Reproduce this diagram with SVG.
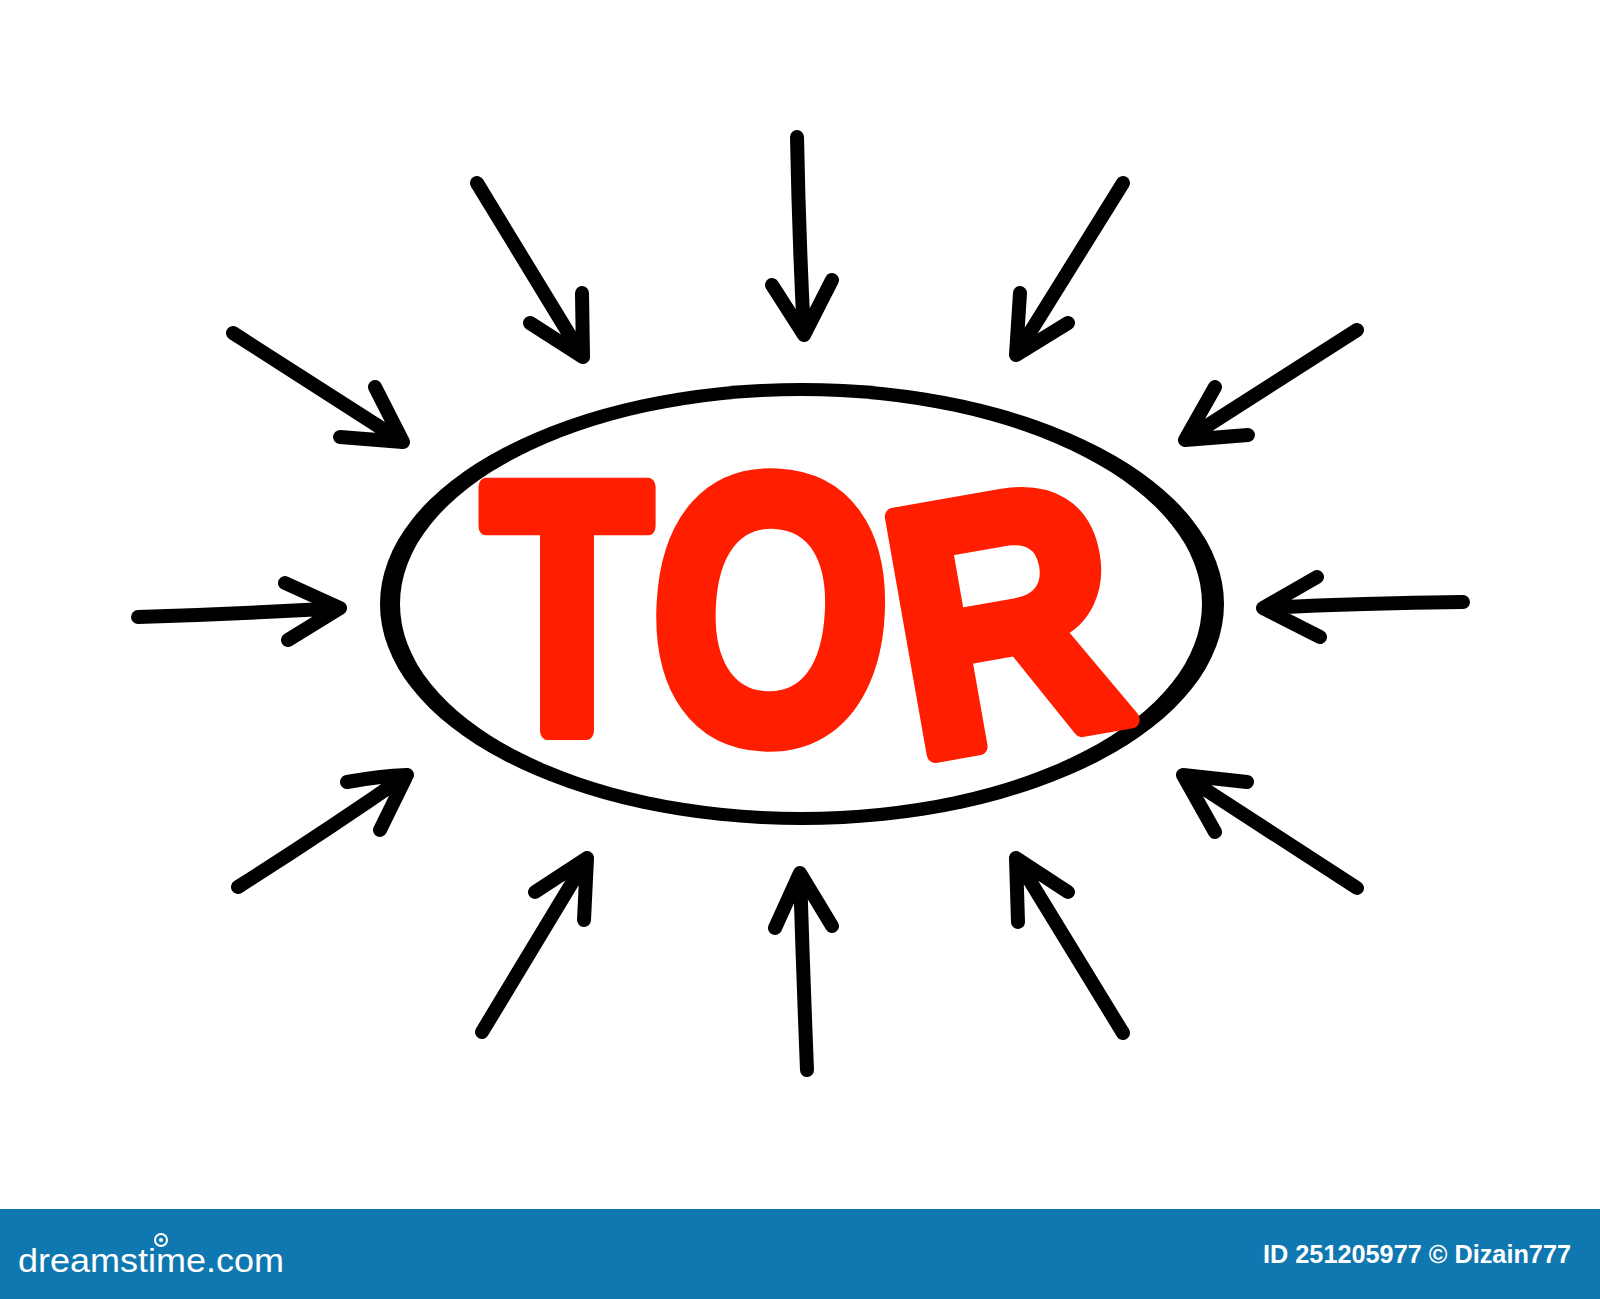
<svg xmlns="http://www.w3.org/2000/svg" width="1600" height="1299" viewBox="0 0 1600 1299">
  <style>
    .arrow { fill: none; stroke: #000; stroke-width: 14; stroke-linecap: round; stroke-linejoin: round; }
    .letter { font-family: "Liberation Sans", Arial, sans-serif; font-weight: bold; fill: #FF1E00; stroke: #FF1E00; stroke-width: 18; stroke-linejoin: round; text-anchor: middle; }
    .footer { font-family: "Liberation Sans", Arial, sans-serif; fill: #fff; }
  </style>
  <rect x="0" y="0" width="1600" height="1299" fill="#fff"/>

  <g id="ellipse-node">
    <ellipse cx="802" cy="604" rx="422" ry="221" fill="#000"/>
    <ellipse cx="801" cy="604" rx="401" ry="208" fill="#fff"/>
    <g id="label-TOR">
      <text class="letter" font-size="355" transform="translate(567,731) scale(0.78,1)">T</text>
      <text class="letter" font-size="375" transform="translate(764,739) rotate(3) scale(0.82,1)">O</text>
      <text class="letter" font-size="350" transform="translate(1026,738) rotate(-10) scale(0.9,1)">R</text>
    </g>
  </g>

  <g id="connectors">
    <g id="arrow-top"><path class="arrow" d="M797,137 Q799,240 804,335 M772,285 L804,335 L832,280"/></g>
    <g id="arrow-top-right"><path class="arrow" d="M1123,183 L1016,355 M1020,293 L1016,355 L1068,323"/></g>
    <g id="arrow-right-upper"><path class="arrow" d="M1357,330 L1185,440 M1215,387 L1185,440 L1248,435"/></g>
    <g id="arrow-right"><path class="arrow" d="M1463,602 Q1360,603 1263,608 M1317,577 L1263,608 L1320,637"/></g>
    <g id="arrow-right-lower"><path class="arrow" d="M1357,888 L1183,775 M1247,782 L1183,775 L1215,832"/></g>
    <g id="arrow-bottom-right"><path class="arrow" d="M1123,1033 L1016,858 M1018,922 L1016,858 L1068,892"/></g>
    <g id="arrow-bottom"><path class="arrow" d="M807,1070 Q803,970 800,873 M775,928 L800,873 L832,926"/></g>
    <g id="arrow-bottom-left"><path class="arrow" d="M482,1032 L587,858 M535,892 L587,858 L584,920"/></g>
    <g id="arrow-left-lower"><path class="arrow" d="M238,887 Q320,835 407,775 M347,782 Q380,776 407,775 L380,830"/></g>
    <g id="arrow-left"><path class="arrow" d="M138,617 Q240,614 340,608 M285,583 L340,608 L288,640"/></g>
    <g id="arrow-left-upper"><path class="arrow" d="M233,333 L403,442 M375,387 L403,442 L340,437"/></g>
    <g id="arrow-top-left"><path class="arrow" d="M477,183 L583,357 M582,293 L583,357 L530,323"/></g>
  </g>

  <g id="footer">
    <rect x="0" y="1209" width="1600" height="90" fill="#1078B0"/>
    <text class="footer" x="18" y="1272" font-size="34" textLength="266" lengthAdjust="spacingAndGlyphs">dreamstime.com</text>
    <circle cx="161" cy="1240" r="6" fill="none" stroke="#fff" stroke-width="2"/>
    <circle cx="161" cy="1240" r="2" fill="#fff"/>
    <text class="footer" x="1263" y="1263" font-size="25" font-weight="bold" textLength="308" lengthAdjust="spacingAndGlyphs">ID 251205977 © Dizain777</text>
  </g>
</svg>
